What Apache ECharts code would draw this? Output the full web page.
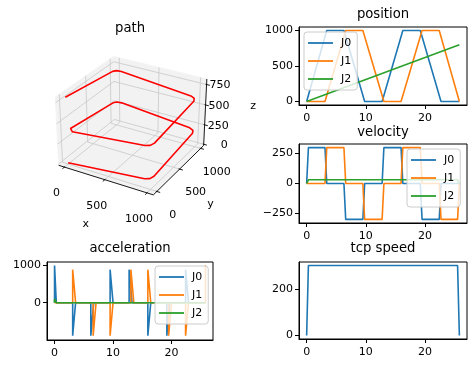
<!DOCTYPE html>
<html><head><meta charset="utf-8">
<script src="https://cdn.jsdelivr.net/npm/echarts@6/dist/echarts.min.js"></script>
<style>html,body{margin:0;padding:0;background:#fff}#c{width:474px;height:368px}</style>
</head><body><div id="c"></div>
<script>
// ---------------- data ----------------
const jointNames = ['J0', 'J1', 'J2'];
const timeTicks = [0, 10, 20];

// position
const posT0 = [0, 3.4, 6.3, 9.8, 12.75, 16.25, 19.2, 22.7, 25.8];
const posJ0 = [0, 1000, 1000, 0, 0, 1000, 1000, 0, 0];
const posT1 = [0, 3.1, 6.6, 9.5, 13.05, 15.95, 19.5, 22.4, 25.8];
const posJ1 = [0, 0, 1000, 1000, 0, 0, 1000, 1000, 0];
const posT2 = [0, 25.8];
const posJ2 = [0, 800];
const posTicks = [0, 500, 1000];

// velocity
const velT0 = [0, 0.3, 3.1, 3.4, 6.3, 6.6, 9.5, 9.8, 12.75, 13.05, 15.95, 16.25, 19.2, 19.5, 22.4, 22.7, 25.8];
const velJ0 = [0, 300, 300, 0, 0, -300, -300, 0, 0, 300, 300, 0, 0, -300, -300, 0, 0];
const velT1 = [0, 3.1, 3.4, 6.3, 6.6, 9.5, 9.8, 12.75, 13.05, 15.95, 16.25, 19.2, 19.5, 22.4, 22.7, 25.5, 25.8];
const velJ1 = [0, 0, 300, 300, 0, 0, -300, -300, 0, 0, 300, 300, 0, 0, -300, -300, 0];
const velT2 = [0, 0.3, 3.1, 3.25, 3.4, 6.3, 6.45, 6.6, 9.5, 9.65, 9.8, 12.75, 12.9, 13.05, 15.95, 16.1, 16.25, 19.2, 19.35, 19.5, 22.4, 22.55, 22.7, 25.5, 25.8];
const velJ2 = [0, 31, 31, 37, 31, 31, 37, 31, 31, 37, 31, 31, 37, 31, 31, 37, 31, 31, 37, 31, 31, 37, 31, 31, 0];
const velTicks = [-250, 0, 250];

// acceleration
const accT0 = [0, 0, 0.3, 3.1, 3.1, 3.6, 6.2, 6.2, 6.7, 9.5, 9.5, 10.0, 12.75, 12.75, 13.25, 15.95, 15.95, 16.45, 19.2, 19.2, 19.7, 22.4, 22.4, 22.9, 25.8];
const accJ0 = [0, 990, 0, 0, -880, 0, 0, -880, 0, 0, 880, 0, 0, 880, 0, 0, -880, 0, 0, -880, 0, 0, 880, 0, 0];
const accT1 = [0, 3.1, 3.1, 3.6, 6.6, 6.6, 7.1, 9.5, 9.5, 10.0, 13.05, 13.05, 13.55, 15.95, 15.95, 16.45, 19.5, 19.5, 20.0, 22.4, 22.4, 22.9, 25.8, 25.8];
const accJ1 = [0, 0, 880, 0, 0, -880, 0, 0, -880, 0, 0, 880, 0, 0, 880, 0, 0, -880, 0, 0, -880, 0, 0, 990];
const accT2 = [0, 0, 0.3, 3.1, 3.25, 3.4, 6.3, 6.45, 6.6, 9.5, 9.65, 9.8, 12.75, 12.9, 13.05, 15.95, 16.1, 16.25, 19.2, 19.35, 19.5, 22.4, 22.55, 22.7, 25.8];
const accJ2 = [0, 100, 0, 0, 40, 0, 0, 40, 0, 0, 40, 0, 0, 40, 0, 0, 40, 0, 0, 40, 0, 0, 40, 0, 0];
const accTicks = [0, 1000];

// tcp speed
const tcpT = [0, 0.3, 25.5, 25.8];
const tcpV = [0, 301.5, 301.5, 0];
const tcpTicks = [0, 200];

// 3D path (x, y, z) vertices
const pathX = [0, 930, 980, 1000, 1000, 980, 930, 70, 20, 0, 0, 20, 70, 930, 980, 1000, 1000, 980, 930, 70, 20, 0, 0];
const pathY = [0, 0, 20, 70, 930, 980, 1000, 1000, 980, 930, 70, 20, 0, 0, 20, 70, 930, 980, 1000, 1000, 980, 930, 0];
const pathZ = [0, 93, 100, 107, 193, 200, 207, 293, 300, 307, 393, 400, 407, 493, 500, 507, 593, 600, 607, 693, 700, 707, 800];
const x3Ticks = [0, 500, 1000];
const y3Ticks = [0, 500, 1000];
const z3Ticks = [0, 250, 500, 750];

// ---------------- helpers ----------------
const FONT = 'DejaVu Sans';
const COLORS = ['#1f77b4', '#ff7f0e', '#2ca02c'];
const zip = (a, b) => a.map((t, i) => [t, b[i]]);
const minus = v => String(v).replace('-', '\u2212');

// 3D projection (matplotlib-like: elev 30, azim -60, perspective, box aspect 4:4:3)
const XL = [-50, 1050], YL = [-50, 1050], ZL = [0, 800];
const PX = (XL[1] - XL[0]) / 48, PY = (YL[1] - YL[0]) / 48, PZ = (ZL[1] - ZL[0]) / 48;
const nrm = Math.hypot(4, 4, 3);
const BOX = [4, 4, 3].map(v => v * 1.8294640721620434 / nrm);
const R = BOX.map(v => v / 2);
const el = 30 * Math.PI / 180, az = -60 * Math.PI / 180, DIST = 10;
const W = [Math.cos(el) * Math.cos(az), Math.cos(el) * Math.sin(az), Math.sin(el)];
let U = [-W[1], W[0], 0];
const un = Math.hypot(U[0], U[1]); U = U.map(v => v / un);
const V = [W[1] * U[2] - W[2] * U[1], W[2] * U[0] - W[0] * U[2], W[0] * U[1] - W[1] * U[0]];
const dot = (a, b) => a[0] * b[0] + a[1] * b[1] + a[2] * b[2];
function proj(x, y, z) {
  const b = [(x - XL[0]) / (XL[1] - XL[0]) * BOX[0], (y - YL[0]) / (YL[1] - YL[0]) * BOX[1], (z - ZL[0]) / (ZL[1] - ZL[0]) * BOX[2]];
  const d = [b[0] - R[0], b[1] - R[1], b[2] - R[2]];
  const depth = DIST - dot(W, d);
  return [dot(U, d) / depth, dot(V, d) / depth];
}

function render3D(params, api) {
  const P = (x, y, z) => api.coord(proj(x, y, z));
  const x0 = XL[0] - PX, x1 = XL[1] + PX, y0 = YL[0] - PY, y1 = YL[1] + PY, z0 = ZL[0] - PZ, z1 = ZL[1] + PZ;
  const ch = [];
  const paneStyle = { fill: '#f2f2f2', stroke: '#f2f2f2', lineWidth: 0.8 };
  const pane = pts => ({ type: 'polygon', silent: true, shape: { points: pts.map(p => P(p[0], p[1], p[2])) }, style: paneStyle });
  ch.push(pane([[x0, y0, z0], [x1, y0, z0], [x1, y1, z0], [x0, y1, z0]]));
  ch.push(pane([[x0, y0, z0], [x0, y1, z0], [x0, y1, z1], [x0, y0, z1]]));
  ch.push(pane([[x0, y1, z0], [x1, y1, z0], [x1, y1, z1], [x0, y1, z1]]));
  const gl = (a, b, col, w) => ({ type: 'polyline', silent: true, shape: { points: [P(a[0], a[1], a[2]), P(b[0], b[1], b[2])] }, style: { stroke: col || '#c8c8c8', lineWidth: w || 0.8, fill: null } });
  x3Ticks.forEach(t => { ch.push(gl([t, y0, z0], [t, y1, z0])); ch.push(gl([t, y1, z0], [t, y1, z1])); });
  y3Ticks.forEach(t => { ch.push(gl([x0, t, z0], [x1, t, z0])); ch.push(gl([x0, t, z0], [x0, t, z1])); });
  z3Ticks.forEach(t => { ch.push(gl([x0, y0, t], [x0, y1, t])); ch.push(gl([x0, y1, t], [x1, y1, t])); });
  // axis lines
  ch.push(gl([x0, y0, z0], [x1, y0, z0], '#000', 0.9));
  ch.push(gl([x1, y0, z0], [x1, y1, z0], '#000', 0.9));
  ch.push(gl([x1, y1, z0], [x1, y1, z1], '#000', 0.9));
  // ticks
  const tl = 0.035;
  x3Ticks.forEach(t => ch.push(gl([t, y0 + tl * 0.3 * (YL[1] - YL[0]), z0], [t, y0 - tl * (YL[1] - YL[0]), z0], '#000', 0.9)));
  y3Ticks.forEach(t => ch.push(gl([x1 - tl * 0.3 * (XL[1] - XL[0]), t, z0], [x1 + tl * (XL[1] - XL[0]), t, z0], '#000', 0.9)));
  z3Ticks.forEach(t => ch.push(gl([x1 - tl * 0.3 * (XL[1] - XL[0]), y1, t], [x1 + tl * (XL[1] - XL[0]), y1, t], '#000', 0.9)));
  // labels
  const txt = (p, dx, dy, s, align) => ({ type: 'text', silent: true, x: p[0] + dx, y: p[1] + dy, style: { text: String(s), fontSize: 11, fontFamily: FONT, fill: '#000', align: align || 'center', verticalAlign: 'middle' } });
  x3Ticks.forEach(t => ch.push(txt(P(t, y0, z0), -8, 26, t)));
  y3Ticks.forEach(t => ch.push(txt(P(x1, t, z0), 16, 23.5, t)));
  z3Ticks.forEach(t => ch.push(txt(P(x1, y1, t), 24, 1, t, 'right')));
  ch.push(txt(P(500, y0, z0), -19, 44, 'x'));
  ch.push(txt(P(x1, 500, z0), 31, 35, 'y'));
  ch.push(txt(P(x1, y1, 400), 48, -7, 'z'));
  return { type: 'group', children: ch };
}

// ---------------- chart ----------------
const T_END = 25.8;
const xr = [-0.05 * T_END, 1.05 * T_END];
const grids = [
  { left: 299, top: 27, width: 168, height: 78 },
  { left: 299, top: 144, width: 168, height: 79 },
  { left: 47, top: 262, width: 166, height: 78 },
  { left: 299, top: 262, width: 168, height: 77 }
].map(g => Object.assign(g, { show: true, borderColor: '#000', borderWidth: 1, backgroundColor: 'transparent', outerBoundsMode: 'none' }));
grids.push({ left: 0, top: 0, width: 240, height: 240, show: false, outerBoundsMode: 'none' });

const lbl = { fontSize: 11, fontFamily: FONT, color: '#000' };
function xA(i) {
  return { gridIndex: i, type: 'value', min: xr[0], max: xr[1], splitLine: { show: false },
    axisLine: { show: true, onZero: false, lineStyle: { color: '#000', width: 1 } },
    axisTick: { show: true, length: 4, lineStyle: { color: '#000' }, customValues: timeTicks },
    axisLabel: Object.assign({ margin: 8, customValues: timeTicks }, lbl) };
}
function yA(i, mn, mx, ticks) {
  return { gridIndex: i, type: 'value', min: mn, max: mx, splitLine: { show: false },
    axisLine: { show: true, onZero: false, lineStyle: { color: '#000', width: 1 } },
    axisTick: { show: true, length: 4, lineStyle: { color: '#000' }, customValues: ticks },
    axisLabel: Object.assign({ margin: 6, customValues: ticks, formatter: minus }, lbl) };
}
const ln = (name, data, xi, ci) => ({ name, type: 'line', xAxisIndex: xi, yAxisIndex: xi, data, symbol: 'none',
  lineStyle: { color: COLORS[ci], width: 1.6 }, itemStyle: { color: COLORS[ci] }, z: 3 });

const legendBase = { data: jointNames, orient: 'vertical', icon: 'rect', itemWidth: 25, itemHeight: 1.8, itemGap: 6,
  padding: [5, 6, 5, 4], backgroundColor: 'rgba(255,255,255,0.8)', borderColor: '#cccccc', borderWidth: 1, borderRadius: 3,
  textStyle: { fontSize: 11, fontFamily: FONT, color: '#000', lineHeight: 12, padding: [0, 0, 0, 3] }, z: 10, selectedMode: false };

const titleTxt = (x, y, s) => ({ type: 'text', x, y, style: { text: s, fontSize: 13.2, fontFamily: FONT, fill: '#000', align: 'center', verticalAlign: 'middle' } });

const chart = echarts.init(document.getElementById('c'), null, { renderer: 'canvas' });
chart.setOption({
  animation: false,
  backgroundColor: '#fff',
  grid: grids,
  xAxis: [xA(0), xA(1), xA(2), xA(3), { gridIndex: 4, type: 'value', min: -0.14544, max: 0.118, show: false }],
  yAxis: [yA(0, -50, 1050, posTicks), yA(1, -330, 330, velTicks), yA(2, -994, 1084, accTicks), yA(3, -15.1, 316.6, tcpTicks),
    { gridIndex: 4, type: 'value', min: -0.13514, max: 0.14041, show: false }],
  legend: [
    Object.assign({}, legendBase, { left: 304, top: 32 }),
    Object.assign({}, legendBase, { left: 407, top: 149 }),
    Object.assign({}, legendBase, { left: 155, top: 266 })
  ],
  graphic: [titleTxt(130, 29, 'path'), titleTxt(383, 15, 'position'), titleTxt(383, 133, 'velocity'),
    titleTxt(130, 249, 'acceleration'), titleTxt(383, 249, 'tcp speed')],
  series: [
    ln('J0', zip(posT0, posJ0), 0, 0), ln('J1', zip(posT1, posJ1), 0, 1), ln('J2', zip(posT2, posJ2), 0, 2),
    ln('J0', zip(velT0, velJ0), 1, 0), ln('J1', zip(velT1, velJ1), 1, 1), ln('J2', zip(velT2, velJ2), 1, 2),
    ln('J0', zip(accT0, accJ0), 2, 0), ln('J1', zip(accT1, accJ1), 2, 1), ln('J2', zip(accT2, accJ2), 2, 2),
    ln('tcp', zip(tcpT, tcpV), 3, 0),
    { type: 'custom', xAxisIndex: 4, yAxisIndex: 4, data: [[0, 0]], renderItem: render3D, z: 1, silent: true },
    { type: 'line', xAxisIndex: 4, yAxisIndex: 4, symbol: 'none', data: pathX.map((x, i) => proj(x, pathY[i], pathZ[i])),
      lineStyle: { color: '#ff0000', width: 1.6 }, z: 5, silent: true }
  ]
});
</script></body></html>
